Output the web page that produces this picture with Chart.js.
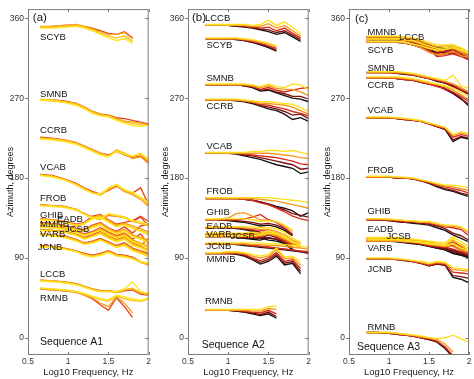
<!DOCTYPE html>
<html><head><meta charset="utf-8">
<script src="https://cdn.jsdelivr.net/npm/chart.js@4"></script>
<style>
html,body{margin:0;padding:0;background:#fff;width:474px;height:379px;overflow:hidden}
canvas{position:absolute;top:0}
</style></head><body>
<canvas id="ca" width="153" height="379" style="left:0px"></canvas>
<canvas id="cb" width="158" height="379" style="left:155px"></canvas>
<canvas id="cc" width="161" height="379" style="left:313px"></canvas>
<script>
// ---------- tick labels ----------
const X_TICKS = [0.5, 1, 1.5, 2];
const Y_TICKS = [0, 90, 180, 270, 360];

// ---------- frequency grids (log10 Hz) ----------
const FREQ_A  = [0.65,0.8,0.95,1.1,1.2,1.3,1.4,1.5,1.6,1.7,1.8,1.9,2.0];
const FREQ_BC = [0.72,0.85,1.0,1.1,1.2,1.3,1.4,1.5,1.6,1.7,1.8,1.9,2.0];

// ---------- Sequence A1 (lines: red, orange, gold, yellow) ----------
const A_SCYB = [[350,351,352,352,351,349,346,343,342,345,338,null,null],[351,351,352,353,351,348,345,342,342,344,337,null,null],[350,350,351,352,350,347,343,340,338,340,334,null,null],[349,349,350,351,349,346,342,338,335,337,332,null,null]];
const A_SMNB = [[268,268,267,264,260,255,252,251,248,247,245,243,241],[268,267,266,264,260,255,252,251,247,244,243,242,240],[269,268,266,263,259,254,251,250,246,243,241,240,239],[268,267,265,262,258,253,250,249,245,242,239,238,240]];
const A_CCRB = [[226,225,223,220,216,212,208,206,210,206,203,205,198],[225,224,223,220,216,212,208,205,211,207,202,204,196],[225,224,222,219,215,211,207,205,212,208,204,207,199],[224,223,221,218,214,210,206,204,210,207,205,208,201]];
const A_VCAB = [[184,183,179,174,169,165,162,166,171,165,163,169,150],[184,182,179,173,168,164,161,167,172,165,161,156,148],[183,182,178,173,168,163,161,168,172,166,162,157,150],[183,181,178,172,167,163,162,169,173,167,164,159,152]];
const A_FROB = [[150,149,148,144,140,136,134,138,137,136,131,136,126],[150,149,148,145,140,136,134,139,138,136,132,130,127],[149,149,147,144,139,135,133,139,137,135,131,129,126],[149,148,147,144,139,135,134,140,138,136,132,130,128]];
const A_GHIB = [[134,133,131,128,130,137,139,133,128,130,132,137,131],[134,133,131,127,129,136,138,132,127,129,126,123,119],[133,132,130,126,128,135,137,131,126,128,124,121,117],[133,132,130,127,129,134,136,130,125,127,123,120,116]];
const A_EADB = [[130,129,127,123,122,127,130,124,120,125,118,126,128],[129,128,126,122,121,126,129,123,119,122,116,113,110],[129,128,126,122,120,125,128,122,118,121,115,112,108],[128,127,125,121,120,124,127,121,117,120,114,111,107]];
const A_MMNB = [[126,125,124,120,117,120,124,119,115,118,111,117,105],[126,125,123,119,116,119,123,118,114,117,110,107,103],[125,124,123,119,116,118,122,117,113,116,109,106,102],[125,124,122,118,115,118,121,116,112,115,108,105,101]];
const A_JCSB = [[122,121,120,117,113,116,120,115,111,114,107,104,112],[122,121,120,116,112,115,119,114,110,113,106,103,99],[121,120,119,116,112,114,118,113,109,112,105,102,98],[121,120,119,115,111,114,117,112,108,111,104,101,97]];
const A_VARB = [[117,116,115,111,107,109,112,108,104,107,101,98,95],[117,116,114,110,106,108,111,107,103,106,100,97,93],[116,115,114,110,106,107,110,106,102,105,99,96,92],[116,115,113,109,105,107,110,106,102,104,98,95,91]];
const A_JCNB = [[104,103,101,98,95,93,95,98,94,93,91,86,83],[103,103,101,98,94,92,94,97,93,92,90,85,82],[103,102,100,97,94,92,94,97,93,92,89,85,83],[102,102,100,97,93,91,93,96,92,91,89,86,84]];
const A_LCCB = [[65,64,63,61,58,55,53,53,51,53,54,49,48],[65,64,63,61,58,55,53,53,52,54,55,50,49],[64,64,62,60,57,54,52,52,51,54,56,51,50],[64,63,62,60,57,54,52,52,52,55,63,52,50]];
const A_RMNB = [[55,54,53,52,48,44,37,31,45,35,23,null,null],[55,54,53,51,48,45,39,35,46,39,28,null,null],[56,55,54,52,49,46,43,41,47,44,42,41,44],[56,55,54,52,50,47,44,43,48,46,44,42,45]];

// ---------- Sequence A2 (lines: black, dark red, red, orange, yellow) ----------
const B_LCCB = [[352,352,352,351,350,349,347,345,342,344,339,334,null],[352,352,352,351,351,350,348,347,344,346,341,336,null],[352,352,352,352,351,350,349,350,346,349,343,338,null],[352,352,352,352,352,351,351,354,349,352,346,340,null],[353,353,353,353,353,352,353,358,352,356,350,343,null]];
const B_SCYB = [[337,337,337,336,335,333,330,327,323,null,null,null,null],[337,337,337,336,335,333,331,328,324,null,null,null,null],[337,337,337,337,336,334,332,329,326,null,null,null,null],[337,337,337,337,336,335,333,331,328,null,null,null,null],[338,338,338,338,337,336,334,332,329,null,null,null,null]];
const B_SMNB = [[285,285,285,285,284,282,278,279,276,273,270,269,266],[285,285,285,285,284,283,279,280,277,275,272,272,269],[285,285,285,285,285,283,280,282,279,277,279,281,282],[285,285,285,285,285,284,282,284,281,280,280,277,273],[286,286,286,286,286,285,283,286,283,282,286,285,280]];
const B_CCRB = [[268,268,268,267,266,264,261,258,256,252,246,248,244],[268,268,268,268,267,265,262,260,258,255,251,252,247],[268,268,268,268,267,265,263,262,260,258,255,253,250],[268,268,268,268,267,266,264,264,263,262,260,256,252],[269,269,269,269,268,267,266,266,265,264,263,259,255]];
const B_VCAB = [[208,208,208,207,205,203,201,198,195,193,191,185,187],[208,208,208,208,206,205,203,201,199,197,195,190,191],[208,208,208,208,207,206,205,204,203,201,199,196,195],[208,208,208,208,208,208,208,208,207,206,205,203,202],[209,209,209,209,209,210,210,211,211,210,211,209,207]];
const B_FROB = [[157,157,157,157,156,155,153,151,148,146,143,137,141],[157,157,157,157,156,155,153,150,147,144,140,138,136],[157,157,157,157,156,155,152,150,146,142,137,134,132],[157,157,157,157,157,157,156,155,154,152,150,148,146],[158,158,158,158,158,158,158,158,157,156,155,154,152]];
const B_GHIB = [[133,133,132,131,130,128,126,127,125,121,115,null,null],[133,133,133,132,131,130,128,129,127,123,116,null,null],[133,133,133,133,134,136,139,133,130,124,117,null,null],[133,133,135,140,141,137,133,132,131,126,120,null,null],[134,134,134,134,134,133,131,132,131,127,121,null,null]];
const B_EADB = [[124,124,124,123,122,120,118,117,115,110,104,null,null],[124,124,124,124,123,121,119,118,116,112,106,null,null],[124,124,124,124,123,122,121,120,118,113,107,null,null],[124,124,124,125,124,123,122,122,120,116,110,106,null],[125,125,125,125,125,125,124,124,123,119,112,108,null]];
const B_VARB = [[117,117,117,116,115,114,113,110,109,106,100,null,null],[117,117,117,117,116,115,114,112,111,108,103,null,null],[117,117,117,117,117,116,117,118,114,110,105,null,null],[117,117,117,117,117,117,117,119,116,112,107,104,null],[118,118,118,118,118,119,118,120,118,114,108,105,null]];
const B_JCSB = [[114,114,114,113,112,111,110,113,111,106,99,null,null],[114,114,114,114,113,112,112,116,113,108,101,null,null],[114,114,114,114,114,113,114,118,114,109,103,null,null],[114,114,114,114,114,114,115,117,115,111,106,102,null],[115,115,115,115,115,115,116,118,117,113,108,104,null]];
const B_JCNB = [[106,106,106,105,104,103,102,101,100,99,98,97,96],[106,106,106,106,105,104,103,102,101,100,99,97,95],[106,106,106,106,105,104,103,102,101,100,99,98,97],[106,106,106,106,106,105,105,104,104,103,102,101,100],[107,107,107,107,107,107,107,106,106,105,104,103,102]];
const B_MMNB = [[95,95,95,94,92,88,83,86,92,82,84,72,null],[95,95,95,95,93,89,85,88,94,84,86,75,null],[95,95,95,95,94,90,87,90,96,86,88,78,null],[95,95,96,96,95,92,90,92,99,89,90,82,null],[96,96,97,97,96,94,92,94,101,91,92,86,null]];
const B_RMNB = [[31,31,31,30,29,27,25,27,22,null,null,null,null],[31,31,31,30,29,28,26,29,24,null,null,null,null],[31,31,31,31,30,29,28,31,27,null,null,null,null],[31,31,31,31,31,30,30,33,32,null,null,null,null],[32,32,32,32,32,32,32,35,36,null,null,null,null]];

// ---------- Sequence A3 (lines: black, dark red, red, orange, yellow) ----------
const C_MMNB = [[339,339,339,339,338,337,334,330,327,327,328,325,318],[339,339,339,339,338,336,333,329,325,327,326,322,317],[339,339,339,339,338,336,333,328,322,323,324,320,316],[339,339,339,339,338,337,334,331,328,329,330,326,320],[340,340,340,340,339,338,336,333,330,330,330,327,322]];
const C_LCCB = [[336,336,336,336,335,333,330,326,321,322,323,320,315],[336,336,336,336,335,333,329,325,319,320,321,318,314],[336,336,336,336,335,333,329,324,317,318,320,317,313],[336,336,336,336,335,334,331,327,323,325,326,322,317],[337,337,337,337,336,335,332,329,326,327,328,325,319]];
const C_SCYB = [[333,333,333,333,332,330,327,323,322,323,326,319,314],[333,333,333,333,332,330,327,323,321,322,324,318,314],[333,333,333,333,332,330,327,322,319,320,323,318,315],[333,333,333,333,332,330,327,322,319,320,323,318,316],[334,334,334,334,333,331,329,326,324,325,327,324,320]];
const C_SMNB = [[299,299,299,298,297,296,294,292,289,287,284,279,275],[299,299,299,298,297,296,294,292,290,287,283,279,274],[299,299,299,299,298,296,294,292,290,288,285,280,276],[299,299,299,299,298,297,295,293,291,289,286,282,277],[300,300,300,300,299,298,296,294,292,290,296,284,281]];
const C_CCRB = [[293,293,293,292,291,290,288,286,284,281,276,270,261],[293,293,293,292,291,290,288,286,284,280,275,269,263],[293,293,293,292,291,290,288,286,283,281,277,272,266],[293,293,293,293,292,291,289,287,285,283,279,274,268],[294,294,294,294,293,292,290,288,286,284,281,277,271]];
const C_VCAB = [[248,248,248,247,246,245,244,241,238,235,221,226,224],[248,248,248,247,246,245,244,241,238,235,223,227,225],[248,248,248,247,246,245,244,241,238,236,226,229,227],[248,248,248,248,247,246,244,242,239,237,228,231,229],[249,249,249,248,247,246,245,242,240,237,229,232,230]];
const C_FROB = [[181,181,181,180,180,179,177,174,170,167,165,162,159],[181,181,181,180,180,179,177,174,171,168,166,163,161],[181,181,181,180,180,179,177,175,172,170,168,166,163],[181,181,181,181,180,180,178,176,173,171,170,168,166],[182,182,182,181,181,180,178,176,174,172,172,171,169]];
const C_GHIB = [[133,133,132,131,130,129,128,127,124,121,116,112,108],[133,133,132,131,130,130,129,128,126,123,118,115,110],[133,133,133,132,131,131,130,129,127,125,124,122,115],[134,134,133,133,132,131,130,130,128,126,126,124,118],[134,134,134,133,132,132,131,131,129,127,127,125,120]];
const C_EADB = [[112,112,112,111,110,109,107,105,103,101,99,96,92],[112,112,112,111,111,110,108,106,104,103,103,99,94],[112,112,112,111,111,110,108,107,105,104,108,103,97],[112,112,112,112,111,110,109,108,106,105,110,105,100],[113,113,113,113,112,111,110,109,108,107,114,108,103]];
const C_JCSB = [[110,110,110,109,108,107,105,103,101,99,96,94,91],[110,110,110,110,109,108,106,104,102,100,98,96,93],[110,110,110,110,109,108,107,105,104,102,104,99,95],[111,111,111,111,110,109,108,106,105,103,107,101,97],[111,111,111,111,110,109,108,107,106,105,112,104,100]];
const C_VARB = [[109,109,109,108,107,106,105,103,101,99,95,93,90],[109,109,109,109,108,107,106,104,102,100,97,95,92],[109,109,109,109,108,107,106,104,103,102,100,97,94],[109,109,109,109,108,108,107,105,104,103,103,99,96],[110,110,110,110,109,108,107,106,105,104,106,101,98]];
const C_JCNB = [[89,89,89,88,87,86,84,81,83,82,68,66,62],[89,89,89,88,87,86,84,81,83,82,70,69,67],[89,89,89,88,87,86,84,82,84,83,74,73,72],[89,89,89,89,88,87,85,83,85,84,77,76,75],[90,90,90,89,88,87,86,84,86,85,79,78,77]];
const C_RMNB = [[6,6,5,4,3,2,0,-2,-5,-12,-22,null,null],[6,6,5,4,3,2,0,-2,-4,-11,-21,null,null],[6,6,5,4,3,2,0,-1,-4,-10,-20,null,null],[6,6,6,5,4,3,1,0,-2,-7,-16,null,null],[6,6,6,5,4,3,2,0,-1,0,3,-1,-5]];

// ---------- station text labels (name, log10 f, azimuth) ----------
const LABELS_A = [['SCYB',0.65,339],['SMNB',0.65,274],['CCRB',0.65,234],['VCAB',0.65,192],['FROB',0.65,157],['GHIB',0.65,137.5],['EADB',0.86,134],['MMNB',0.65,128],['JCSB',0.96,122],['VARB',0.65,117],['JCNB',0.62,102],['LCCB',0.65,71],['RMNB',0.65,44]];
const LABELS_B = [['LCCB',0.71,359.7],['SCYB',0.73,329.6],['SMNB',0.73,292],['CCRB',0.73,261],['VCAB',0.73,216],['FROB',0.73,165],['GHIB',0.73,141],['EADB',0.73,125.5],['VARB',0.73,116.3],['JCSB',1.03,113.8],['JCNB',0.73,103.5],['MMNB',0.73,88],['RMNB',0.71,40.6]];
const LABELS_C = [['MMNB',0.73,344],['LCCB',1.125,338.8],['SCYB',0.73,324],['SMNB',0.73,304],['CCRB',0.73,284.6],['VCAB',0.73,256.5],['FROB',0.73,188.8],['GHIB',0.73,143],['EADB',0.73,121.8],['JCSB',0.97,114.5],['VARB',0.73,101],['JCNB',0.73,77],['RMNB',0.73,11.3]];
const PANEL_TAGS = [['(a)',0.56,360.4],['(b)',0.55,360.5],['(c)',0.575,360]];
const SEQ_TAGS = [['Sequence A1',0.65,-4.7],['Sequence A2',0.67,-8.6],['Sequence A3',0.6,-10.6]];

// ---------- styling ----------
const FONT = '"Liberation Sans", Arial, Helvetica, sans-serif';
const PAL_A  = ['#e9461c','#f49d1c','#fcc41a','#ffe620'];
const PAL_BC = ['#151010','#7d1111','#d62b1d','#f5981b','#ffe01d'];

function buildDatasets(freq, stations, pal){
  const out = [];
  stations.forEach(lines => {
    lines.forEach((vals, i) => {
      out.push({
        data: vals.map((v, k) => ({x: freq[k], y: v})),
        borderColor: pal[i], borderWidth: 1.35, pointRadius: 0,
        fill: false, tension: 0, spanGaps: false, clip: 0,
        order: pal.length - 1 - i
      });
    });
  });
  return out;
}

function overlay(labels, tag, seq){
  return {
    id: 'overlay',
    afterDraw(chart){
      const {ctx, chartArea: a, scales: {x, y}} = chart;
      ctx.save();
      ctx.strokeStyle = '#7b7b7b'; ctx.lineWidth = 1;
      ctx.strokeRect(a.left + 0.5, a.top + 0.5, a.right - a.left - 1, a.bottom - a.top - 1);
      ctx.beginPath();
      X_TICKS.forEach(v => {
        const p = Math.round(x.getPixelForValue(v)) + 0.5;
        ctx.moveTo(p, a.top); ctx.lineTo(p, a.top + 3);
        ctx.moveTo(p, a.bottom); ctx.lineTo(p, a.bottom - 3);
      });
      Y_TICKS.forEach(v => {
        const p = Math.round(y.getPixelForValue(v)) + 0.5;
        ctx.moveTo(a.left - 3, p); ctx.lineTo(a.left + 0.5, p);
        ctx.moveTo(a.right, p); ctx.lineTo(a.right - 3.5, p);
      });
      ctx.stroke();
      ctx.fillStyle = '#141414'; ctx.textAlign = 'left'; ctx.textBaseline = 'middle';
      ctx.font = '9.5px ' + FONT;
      labels.forEach(([t, fx, fy]) => ctx.fillText(t, x.getPixelForValue(fx), y.getPixelForValue(fy)));
      ctx.font = '11.5px ' + FONT;
      ctx.fillText(tag[0], x.getPixelForValue(tag[1]), y.getPixelForValue(tag[2]));
      ctx.font = '10.5px ' + FONT;
      ctx.fillText(seq[0], x.getPixelForValue(seq[1]), y.getPixelForValue(seq[2]));
      ctx.restore();
    }
  };
}

function makeChart(id, freq, stations, pal, yWidth, titlePad, padRight, labels, tag, seq){
  return new Chart(document.getElementById(id), {
    type: 'line',
    data: {datasets: buildDatasets(freq, stations, pal)},
    options: {
      responsive: false, animation: false, events: [],
      layout: {padding: {left: 0, right: padRight, top: 0, bottom: 0}},
      plugins: {legend: {display: false}, tooltip: {enabled: false}},
      scales: {
        x: {
          type: 'linear', min: 0.5, max: 2,
          grid: {display: false, drawTicks: false}, border: {display: false},
          afterBuildTicks: s => { s.ticks = X_TICKS.map(v => ({value: v})); },
          ticks: {color: '#333', font: {family: FONT, size: 8.5}, padding: 2, maxRotation: 0, autoSkip: false, callback: v => String(v)},
          title: {display: true, text: 'Log10 Frequency, Hz', color: '#222', font: {family: FONT, size: 9.5}, padding: {top: 0, bottom: 1.3}},
          afterFit: s => { s.height = 24; }
        },
        y: {
          type: 'linear', min: -19.4, max: 370.4,
          grid: {display: false, drawTicks: false}, border: {display: false},
          afterBuildTicks: s => { s.ticks = Y_TICKS.map(v => ({value: v})); },
          ticks: {color: '#333', font: {family: FONT, size: 8.5}, padding: 4, autoSkip: false, callback: v => String(v)},
          title: {display: true, text: 'Azimuth, degrees', color: '#222', font: {family: FONT, size: 9}, padding: {top: titlePad, bottom: 0}},
          afterFit: s => { s.width = yWidth; }
        }
      }
    },
    plugins: [overlay(labels, tag, seq)]
  });
}

makeChart('ca', FREQ_A,
  [A_SCYB, A_SMNB, A_CCRB, A_VCAB, A_FROB, A_GHIB, A_EADB, A_MMNB, A_JCSB, A_VARB, A_JCNB, A_LCCB, A_RMNB],
  PAL_A, 28, 5, 4, LABELS_A, PANEL_TAGS[0], SEQ_TAGS[0]);
makeChart('cb', FREQ_BC,
  [B_LCCB, B_SCYB, B_SMNB, B_CCRB, B_VCAB, B_FROB, B_GHIB, B_EADB, B_VARB, B_JCSB, B_JCNB, B_MMNB, B_RMNB],
  PAL_BC, 33, 5.3, 4, LABELS_B, PANEL_TAGS[1], SEQ_TAGS[1]);
makeChart('cc', FREQ_BC,
  [C_MMNB, C_LCCB, C_SCYB, C_SMNB, C_CCRB, C_VCAB, C_FROB, C_GHIB, C_EADB, C_JCSB, C_VARB, C_JCNB, C_RMNB],
  PAL_BC, 36, 8.8, 5, LABELS_C, PANEL_TAGS[2], SEQ_TAGS[2]);
</script>
</body></html>
